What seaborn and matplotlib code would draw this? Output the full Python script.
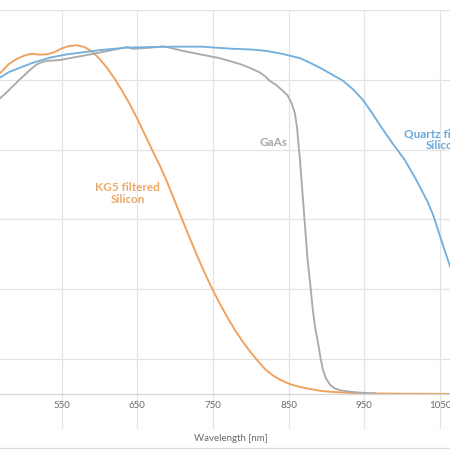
"""
plot.py
=======
Relative spectral response of three detectors
(KG5 filtered Silicon, GaAs, Quartz filtered Silicon).
"""

import numpy as np
import pandas as pd
import matplotlib.pyplot as plt
import seaborn as sns
from matplotlib.lines import Line2D

# --- data (relative response, %) -------------------------------------------
kg5_nm = [468, 480, 490, 500, 510, 520, 530, 540, 550, 560, 570, 580, 590,
          600, 610, 620, 630, 640, 650, 660, 670, 680, 690, 700, 710, 720,
          730, 740, 750, 760, 770, 780, 790, 800, 810, 820, 830, 840, 850,
          860, 870, 880, 890, 900, 920, 940, 960, 980, 1000, 1030, 1065]
kg5_resp = [91.8, 94.5, 95.9, 96.9, 97.5, 97.2, 97.3, 97.9, 99.0, 99.7, 99.9,
            99.4, 98.1, 96.0, 93.4, 90.3, 86.8, 83.0, 78.8, 74.3, 69.7, 65.3,
            60.4, 55.0, 49.6, 44.3, 39.1, 34.2, 29.7, 25.5, 21.6, 18.0, 14.8,
            11.9, 9.3, 6.9, 5.2, 4.0, 3.0, 2.3, 1.8, 1.4, 1.0, 0.75, 0.45,
            0.3, 0.2, 0.15, 0.1, 0.08, 0.05]

gaas_nm = [468, 478, 486, 495, 504, 511, 517, 523, 530, 548, 578, 600, 623,
           637, 644, 667, 684, 693, 710, 733, 759, 786, 799, 812, 819, 825,
           833, 842, 849, 854, 858, 861, 863, 865, 869, 872, 875, 879, 882,
           885, 889, 892, 895, 899, 905, 911, 918, 931, 951, 965]
gaas_resp = [84.6, 86.6, 88.3, 90.2, 92.0, 93.4, 94.4, 95.0, 95.4, 95.7, 96.9,
             97.8, 98.8, 99.4, 98.9, 99.2, 99.6, 99.2, 98.3, 97.3, 96.2, 94.5,
             93.4, 92.1, 91.0, 89.7, 88.6, 86.9, 85.4, 83.2, 80.6, 76.5, 71.5,
             67.0, 55.5, 47.0, 38.5, 30.5, 24.0, 19.0, 14.5, 10.5, 7.2, 4.6,
             2.6, 1.6, 1.1, 0.66, 0.3, 0.2]

quartz_nm = [468, 480, 495, 512, 535, 557, 575, 600, 635, 667, 700, 735, 775,
             800, 820, 840, 852, 865, 878, 891, 905, 922, 935, 948, 960, 971,
             987, 1004, 1018, 1033, 1041, 1047, 1055, 1065]
quartz_resp = [90.6, 92.2, 93.5, 94.9, 96.4, 97.3, 97.8, 98.5, 99.2, 99.4,
               99.5, 99.5, 98.9, 98.7, 98.3, 97.5, 96.9, 96.2, 94.9, 93.5,
               91.8, 89.7, 87.3, 84.3, 80.6, 76.9, 71.9, 66.9, 61.6, 55.4,
               51.3, 47.3, 42.0, 35.5]

x_ticks = [550, 650, 750, 850, 950, 1050]
y_grid = [-10, 10, 30, 50, 70, 90, 110]

colors = {
    'KG5 filtered Silicon': '#EFA15B',
    'GaAs': '#ABABAB',
    'Quartz filtered Silicon': '#74B0DB',
}

df = pd.concat([
    pd.DataFrame({'nm': kg5_nm, 'resp': kg5_resp,
                  'sensor': 'KG5 filtered Silicon'}),
    pd.DataFrame({'nm': gaas_nm, 'resp': gaas_resp, 'sensor': 'GaAs'}),
    pd.DataFrame({'nm': quartz_nm, 'resp': quartz_resp,
                  'sensor': 'Quartz filtered Silicon'}),
])

sns.set_theme(style='whitegrid')
plt.rcParams['font.family'] = ['Lato', 'DejaVu Sans']

fig = plt.figure(figsize=(4.5, 4.5), dpi=100)
ax = fig.add_axes([0, 21 / 450, 1, 419 / 450])

sns.lineplot(data=df, x='nm', y='resp', hue='sensor', palette=colors,
             linewidth=1.35, legend=False, ax=ax, sort=True,
             estimator=None)

# ticks first, then limits (set_ticks can widen the view)
ax.set_xticks(x_ticks)
ax.set_yticks(y_grid)
ax.set_yticklabels([])
ax.set_xlim(468.4, 1063.3)
ax.set_ylim(-10, 110)
ax.grid(True, color='#e3e3e3', linewidth=0.9)

for side in ['top', 'left', 'right']:
    ax.spines[side].set_visible(False)
ax.spines['bottom'].set_position(('data', 0))
ax.spines['bottom'].set_color('#d6d6d6')
ax.spines['bottom'].set_linewidth(0.9)
ax.tick_params(axis='x', length=0, pad=5, labelsize=7, labelcolor='#6b6b6b')
ax.tick_params(axis='y', length=0)

ax.set_ylabel('')
ax.set_xlabel('Wavelength [nm]', fontsize=7, color='#6b6b6b')
ax.xaxis.set_label_coords(0.514, -0.012)

# curve labels
ax.text(637, 57.5, 'KG5 filtered\nSilicon', ha='center', va='center',
        fontsize=8.5, fontweight='bold', color='#EDA868', linespacing=1.1)
ax.text(830, 72.1, 'GaAs', ha='center', va='center',
        fontsize=8.5, fontweight='bold', color='#A8A8A8')
ax.text(1054, 72.9, 'Quartz filtered\nSilicon', ha='center', va='center',
        fontsize=8.5, fontweight='bold', color='#6AA8D8', linespacing=1.1)

# frame line at the bottom of the chart
fig.add_artist(Line2D([0, 1], [2 / 450, 2 / 450], transform=fig.transFigure,
                      color='#dcdcdc', linewidth=0.9))

fig.savefig('out.png', dpi=100)
